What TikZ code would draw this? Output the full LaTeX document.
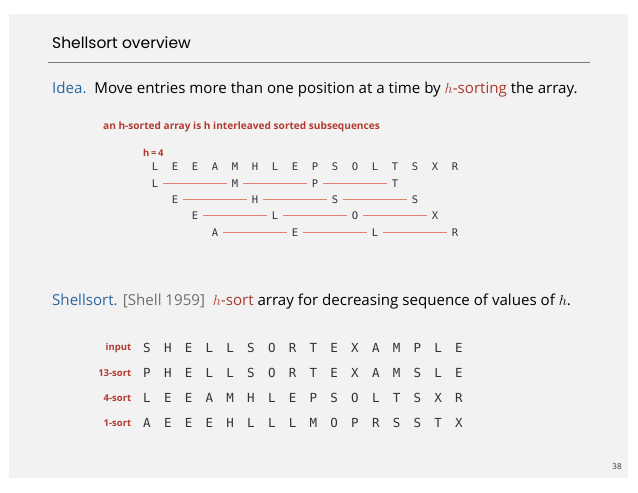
\documentclass[tikz,border=0pt]{standalone}
\usepackage{fontspec}
\setmainfont{Open Sans}
\newfontfamily\titlefont{Poppins}
\newfontfamily\letterfont{DejaVu Sans Mono}
\usetikzlibrary{matrix,positioning}
\definecolor{slidegray}{HTML}{F2F2F2}
\definecolor{ideablue}{HTML}{2A65A0}
\definecolor{hred}{HTML}{A8372E}
\definecolor{lblred}{HTML}{B23A30}
\definecolor{lnred}{HTML}{E2806F}
\definecolor{rulegray}{HTML}{7A7A7A}
\definecolor{citegray}{HTML}{6E6E6E}
\definecolor{lettergray}{HTML}{333333}
\tikzset{
  txt/.style={anchor=base west, inner sep=0pt, text=black, font=\fontsize{15.1}{18}\selectfont},
  lbl/.style={inner sep=0pt, text=lblred, font=\bfseries\fontsize{9.5}{11}\selectfont},
  smallletter/.style={inner sep=0pt, text=lettergray, minimum width=20pt, minimum height=16.3pt,
    text height=7.6pt, text depth=0pt, font=\letterfont\fontsize{10.5}{12}\selectfont},
  bigletter/.style={inner sep=0pt, text=lettergray, minimum width=20.8pt, minimum height=25pt,
    text height=9.1pt, text depth=0pt, font=\letterfont\fontsize{12.5}{14}\selectfont},
  subseq/.style={lnred, line width=1pt, shorten <=-2pt, shorten >=-2pt}
}
\begin{document}
\begin{tikzpicture}[x=1pt,y=-1pt]
\useasboundingbox (0,0) rectangle (638,493);
\fill[white] (0,0) rectangle (638,493);
\fill[slidegray] (9,14) rectangle (628,478);

\node[anchor=base west, inner sep=0pt, font=\titlefont\fontsize{15.5}{18}\selectfont] (title) at (52,48) {Shellsort overview};
\coordinate (rl) at (48,62);
\coordinate (rr) at (590,62);
\draw[rulegray, line width=1pt] (rl) -- (rr);

\node[txt] (idea) at (52,93) {\textcolor{ideablue}{Idea.}\ \ Move entries more than one position at a time by \textcolor{hred}{$h$-sorting} the array.};

\node[lbl, anchor=base west, font=\bfseries\fontsize{10.1}{12}\selectfont] (interleave) at (103,129) {an h-sorted array is h interleaved sorted subsequences};
\node[lbl, anchor=base west] (hval) at (143,156) {h\,=\,4};

\matrix (m)[matrix of nodes, column sep=0pt, row sep=0pt, nodes={smallletter}] at (305,199.6) {
L & E & E & A & M & H & L & E & P & S & O & L & T & S & X & R \\
L &   &   &   & M &   &   &   & P &   &   &   & T &   &   &   \\
  & E &   &   &   & H &   &   &   & S &   &   &   & S &   &   \\
  &   & E &   &   &   & L &   &   &   & O &   &   &   & X &   \\
  &   &   & A &   &   &   & E &   &   &   & L &   &   &   & R \\
};

\foreach \r/\c in {2/1,3/2,4/3,5/4}
  \foreach \k in {0,4,8} {
    \pgfmathtruncatemacro{\s}{\c+\k}
    \pgfmathtruncatemacro{\t}{\c+\k+4}
    \draw[subseq] (m-\r-\s) -- (m-\r-\t);
  }

\node[txt] (shell) at (52,305) {\textcolor{ideablue}{Shellsort.} \textcolor{citegray}{[Shell 1959]}\ \ \textcolor{hred}{$h$-sort} array for decreasing sequence of values of $h$.};

\matrix (b)[matrix of nodes, column sep=0pt, row sep=0pt, nodes={bigletter}] at (303,385.5) {
S & H & E & L & L & S & O & R & T & E & X & A & M & P & L & E \\
P & H & E & L & L & S & O & R & T & E & X & A & M & S & L & E \\
L & E & E & A & M & H & L & E & P & S & O & L & T & S & X & R \\
A & E & E & E & H & L & L & L & M & O & P & R & S & S & T & X \\
};

\node[lbl, left=5pt of b-1-1] (input) {input};
\node[lbl, left=5pt of b-2-1] (s13) {13-sort};
\node[lbl, left=5pt of b-3-1] (s4) {4-sort};
\node[lbl, left=5pt of b-4-1] (s1) {1-sort};

\node[inner sep=0pt, text=lettergray, font=\fontsize{8}{9}\selectfont] (page) at (617,467) {38};
\end{tikzpicture}
\end{document}
